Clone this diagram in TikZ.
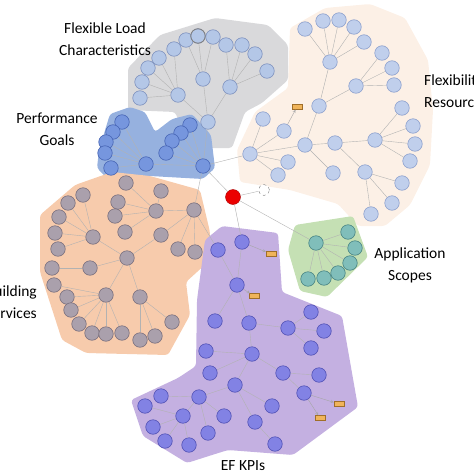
\documentclass[tikz,border=0pt]{standalone}
\usepackage{fontspec}
\setmainfont{Carlito}
\usepackage{tikz}
\usetikzlibrary{arrows}
\definecolor{resarea}{RGB}{252,240,230}
\definecolor{loadarea}{RGB}{217,217,219}
\definecolor{goalarea}{RGB}{150,177,223}
\definecolor{servarea}{RGB}{247,203,172}
\definecolor{kpiarea}{RGB}{196,176,225}
\definecolor{scopearea}{RGB}{197,224,180}
\definecolor{loadnd}{RGB}{180,199,231}
\definecolor{loadbd}{RGB}{125,145,190}
\definecolor{goalnd}{RGB}{118,150,222}
\definecolor{goalbd}{RGB}{70,100,180}
\definecolor{servnd}{RGB}{170,160,172}
\definecolor{servbd}{RGB}{120,110,125}
\definecolor{kpind}{RGB}{130,130,228}
\definecolor{kpibd}{RGB}{80,80,180}
\definecolor{scopend}{RGB}{128,190,186}
\definecolor{scopebd}{RGB}{70,130,130}
\definecolor{resnd}{RGB}{192,207,236}
\definecolor{resbd}{RGB}{140,160,205}
\tikzstyle{link} = [draw=gray!60, line width=0.4pt]
\tikzstyle{taglink} = [draw=gray!70, line width=0.4pt, ->, >=stealth]
\tikzstyle{dot} = [circle, minimum size=14.5pt, inner sep=0pt, line width=0.6pt]
\tikzstyle{loadnode} = [dot, fill=loadnd, draw=loadbd]
\tikzstyle{goalnode} = [dot, fill=goalnd, draw=goalbd]
\tikzstyle{servnode} = [dot, fill=servnd, draw=servbd]
\tikzstyle{kpinode} = [dot, fill=kpind, draw=kpibd]
\tikzstyle{scopenode} = [dot, fill=scopend, draw=scopebd]
\tikzstyle{resnode} = [dot, fill=resnd, draw=resbd]
\tikzstyle{tag} = [rectangle, minimum width=10pt, minimum height=5pt, inner sep=0pt, fill={rgb,255:red,240;green,180;blue,90}, draw={rgb,255:red,160;green,110;blue,40}, line width=0.4pt]
\tikzstyle{title} = [inner sep=0pt, font=\fontsize{15.5}{22}\selectfont]

\begin{document}
\begin{tikzpicture}[x=1pt, y=-1pt]
\useasboundingbox (0,0) rectangle (474,474);
\clip (0,0) rectangle (474,474);

% Cluster areas
\fill[resarea, rounded corners=3pt] (237,150) -- (255,112) -- (288,88) -- (290,28) -- (325,8) -- (370,4) -- (405,18) -- (428,60) -- (433,110) -- (430,165) -- (410,205) -- (385,226) -- (358,226) -- (338,204) -- (290,190) -- (240,182) -- cycle;
\fill[loadarea, rounded corners=3pt] (128,68) -- (160,35) -- (215,18) -- (268,25) -- (288,45) -- (288,80) -- (262,103) -- (245,112) -- (232,148) -- (190,148) -- (175,112) -- (128,110) -- cycle;
\fill[goalarea, rounded corners=3pt] (99,150) -- (110,114) -- (130,107) -- (145,112) -- (155,132) -- (172,119) -- (192,114) -- (211,135) -- (215,168) -- (203,179) -- (150,176) -- (110,181) -- (97,168) -- cycle;
\fill[servarea, rounded corners=3pt] (40,215) -- (75,185) -- (112,172) -- (150,176) -- (200,190) -- (210,232) -- (208,262) -- (186,282) -- (190,315) -- (168,355) -- (86,353) -- (62,340) -- (40,272) -- cycle;
\fill[kpiarea, rounded corners=3pt] (205,240) -- (222,226) -- (278,233) -- (282,292) -- (342,316) -- (358,407) -- (293,455) -- (228,450) -- (212,455) -- (187,463) -- (143,436) -- (131,400) -- (178,378) -- (196,366) -- (197,300) -- cycle;
\fill[scopearea, rounded corners=3pt] (295,225) -- (353,216) -- (368,257) -- (327,297) -- (300,291) -- (288,250) -- cycle;

% Cluster titles
\node[title, align=center] (loadlbl) at (105,39) {Flexible Load\\Characteristics};
\node[title, align=center] (goallbl) at (57,129) {Performance\\Goals};
\node[title, align=left, anchor=west] (reslbl) at (424,91) {Flexibility\\Resources};
\node[title, align=right, anchor=east] (servlbl) at (37,302) {Building\\Services};
\node[title, align=center] (scopelbl) at (410,265) {Application\\Scopes};
\node[title] (kpilbl) at (243,466) {EF KPIs};

% Centre
\node[circle, minimum size=15pt, inner sep=0pt, fill={rgb,255:red,235;green,0;blue,0}, draw={rgb,255:red,170;green,0;blue,0}] (centre) at (233,197) {};
\node[circle, minimum size=11pt, inner sep=0pt, draw=gray, dashed, fill=white] (ext) at (264,190) {};

% Performance goals
\node[goalnode] (groot) at (203,166) {};
\node[goalnode] (gh) at (146,164) {};
\foreach \i/\x/\y in {1/122/122, 2/113/132, 3/106/142, 4/105/153, 5/111/168} {
  \node[goalnode] (ga\i) at (\x,\y) {};
  \draw[link] (gh) -- (ga\i);
}
\foreach \i/\x/\y in {1/190/125, 2/181/133, 3/172/141, 4/166/153} {
  \node[goalnode] (gb\i) at (\x,\y) {};
  \draw[link] (groot) -- (gb\i);
}
\draw[link] (groot) -- (gh);

% Flexible load characteristics
\node[loadnode] (lroot) at (208,122) {};
\node[loadnode] (lh1) at (178,95) {};
\node[loadnode] (lh2) at (203,79) {};
\node[loadnode] (lh3) at (230,87) {};
\foreach \i/\x/\y in {1/174/49, 2/159/58, 3/148/68, 4/142/82, 5/140/98} {
  \node[loadnode] (la\i) at (\x,\y) {};
  \draw[link] (lh1) -- (la\i);
}
\foreach \i/\x/\y in {1/186/40, 2/198/36, 3/213/37} {
  \node[loadnode] (lb\i) at (\x,\y) {};
  \draw[link] (lh2) -- (lb\i);
}
\draw[line width=0.8pt, draw=gray] (lb2) circle (7.25pt);
\foreach \i/\x/\y in {1/226/45, 2/242/45, 3/255/54, 4/267/71} {
  \node[loadnode] (lc\i) at (\x,\y) {};
  \draw[link] (lh3) -- (lc\i);
}
\draw[link] (lroot) -- (lh1);
\draw[link] (lroot) -- (lh2);
\draw[link] (lroot) -- (lh3);

% Flexibility resources
\node[resnode] (r0) at (250,154) {};
\node[resnode] (r1) at (305,145) {};
\node[resnode] (r2) at (319,106) {};
\node[resnode] (r3) at (335,143) {};
\node[resnode] (r4) at (330,62) {};
\node[resnode] (r5) at (356,86) {};
\node[resnode] (r6) at (375,140) {};
\node[resnode] (r7) at (365,172) {};
\node[resnode] (r8) at (333,173) {};
\foreach \i/\x/\y in {1/263/119, 2/284/131, 3/288/162, 4/278/175} {
  \node[resnode] (ra\i) at (\x,\y) {};
  \draw[link] (r0) -- (ra\i);
}
\foreach \i/\x/\y in {1/305/29, 2/323/21, 3/339/20, 4/354/27, 5/364/42} {
  \node[resnode] (rb\i) at (\x,\y) {};
  \draw[link] (r4) -- (rb\i);
}
\foreach \i/\x/\y in {1/382/53, 2/392/68, 3/394/85} {
  \node[resnode] (rc\i) at (\x,\y) {};
  \draw[link] (r5) -- (rc\i);
}
\foreach \i/\x/\y in {1/402/108, 2/413/126, 3/415/144, 4/410/161} {
  \node[resnode] (rd\i) at (\x,\y) {};
  \draw[link] (r6) -- (rd\i);
}
\foreach \i/\x/\y in {1/402/183, 2/392/203, 3/371/214} {
  \node[resnode] (re\i) at (\x,\y) {};
  \draw[link] (r7) -- (re\i);
}
\draw[link] (r0) -- (r1);
\draw[link] (r1) -- (r2);
\draw[link] (r1) -- (r3);
\draw[link] (r1) -- (r8);
\draw[link] (r2) -- (r4);
\draw[link] (r2) -- (r5);
\draw[link] (r3) -- (r6);
\draw[link] (r3) -- (r7);
\node[tag] (rtag) at (297,107) {};
\draw[taglink] (ra2) -- (rtag);

% Building services
\node[servnode] (sroot) at (194,210) {};
\node[servnode] (sh1) at (156,211) {};
\node[servnode] (sh2) at (161,235) {};
\node[servnode] (scen) at (127,258) {};
\node[servnode] (sh3) at (93,237) {};
\node[servnode] (sh4) at (90,268) {};
\node[servnode] (sh5) at (106,295) {};
\node[servnode] (sh6) at (140,297) {};
\foreach \i/\x/\y in {1/126/183, 2/161/191, 3/118/202, 4/115/216, 5/125/232} {
  \node[servnode] (sa\i) at (\x,\y) {};
  \draw[link] (sh1) -- (sa\i);
}
\foreach \i/\x/\y in {1/178/249, 2/195/252} {
  \node[servnode] (sb\i) at (\x,\y) {};
  \draw[link] (sroot) -- (sb\i);
}
\foreach \i/\x/\y in {1/83/195, 2/68/203, 3/59/217, 4/55/233, 5/58/249} {
  \node[servnode] (sc\i) at (\x,\y) {};
  \draw[link] (sh3) -- (sc\i);
}
\node[servnode] (sd1) at (52,268) {};
\draw[link] (sh4) -- (sd1);
\foreach \i/\x/\y in {1/54/285, 2/67/297, 3/71/310, 4/79/324, 5/92/333, 6/106/334, 7/122/333} {
  \node[servnode] (se\i) at (\x,\y) {};
  \draw[link] (sh5) -- (se\i);
}
\foreach \i/\x/\y in {1/140/340, 2/155/336, 3/172/322} {
  \node[servnode] (sf\i) at (\x,\y) {};
  \draw[link] (sh6) -- (sf\i);
}
\draw[link] (sroot) -- (sh1);
\draw[link] (sroot) -- (sh2);
\draw[link] (sh2) -- (scen);
\draw[link] (scen) -- (sh3);
\draw[link] (scen) -- (sh4);
\draw[link] (scen) -- (sh5);
\draw[link] (scen) -- (sh6);

% Application scopes
\node[scopenode] (sp0) at (316,243) {};
\foreach \i/\x/\y in {1/348/232, 2/355/248, 3/350/263, 4/338/273, 5/324/278, 6/308/279} {
  \node[scopenode] (spa\i) at (\x,\y) {};
  \draw[link] (sp0) -- (spa\i);
}

% EF KPIs
\node[kpinode] (k0) at (242,242) {};
\node[kpinode] (ka) at (218,250) {};
\node[kpinode] (k1) at (237,285) {};
\node[kpinode] (k2) at (249,323) {};
\node[kpinode] (k3) at (288,328) {};
\node[kpinode] (k4) at (252,354) {};
\node[kpinode] (k5) at (283,373) {};
\node[kpinode] (k6) at (235,385) {};
\node[kpinode] (k7) at (199,397) {};
\node[kpinode] (k8) at (255,422) {};
\node[kpinode] (k9) at (183,416) {};
\node[kpinode] (k10) at (304,393) {};
\node[kpinode] (kb1) at (215,321) {};
\foreach \i/\x/\y in {1/311/312, 2/324/331, 3/311/348} {
  \node[kpinode] (kc\i) at (\x,\y) {};
  \draw[link] (k3) -- (kc\i);
}
\foreach \i/\x/\y in {1/206/351, 2/210/373} {
  \node[kpinode] (kd\i) at (\x,\y) {};
  \draw[link] (k4) -- (kd\i);
}
\node[kpinode] (ke1) at (319,375) {};
\node[kpinode] (kf1) at (272,406) {};
\node[kpinode] (kg1) at (275,444) {};
\foreach \i/\x/\y in {1/161/396, 2/224/416, 3/208/433} {
  \node[kpinode] (kh\i) at (\x,\y) {};
  \draw[link] (k7) -- (kh\i);
}
\foreach \i/\x/\y in {1/145/406, 2/153/427, 3/165/441, 4/189/445} {
  \node[kpinode] (ki\i) at (\x,\y) {};
  \draw[link] (k9) -- (ki\i);
}
\draw[link] (k0) -- (k1);
\draw[link] (ka) -- (k1);
\draw[link] (k1) -- (kb1);
\draw[link] (k1) -- (k2);
\draw[link] (k2) -- (k3);
\draw[link] (k2) -- (k4);
\draw[link] (k4) -- (k5);
\draw[link] (k4) -- (k6);
\draw[link] (k5) -- (ke1);
\draw[link] (k5) -- (k10);
\draw[link] (k6) -- (k7);
\draw[link] (k6) -- (kf1);
\draw[link] (k6) -- (k8);
\draw[link] (k8) -- (kg1);
\draw[link] (k7) -- (k9);
\node[tag] (ktag1) at (271,254) {};
\node[tag] (ktag2) at (254,296) {};
\node[tag] (ktag3) at (339,404) {};
\node[tag] (ktag4) at (320,418) {};
\draw[taglink] (k0) -- (ktag1);
\draw[taglink] (k1) -- (ktag2);
\draw[taglink] (k10) -- (ktag3);
\draw[taglink] (k10) -- (ktag4);

% Links between clusters
\draw[link] (centre) -- (groot);
\draw[link] (centre) -- (ext);
\draw[link] (centre) -- (sp0);
\draw[link] (centre) -- (k0);
\draw[link] (groot) -- (lroot);
\draw[link] (groot) -- (r0);
\draw[link] (groot) -- (sroot);
\draw[link] (sroot) -- (ka);

\end{tikzpicture}
\end{document}
